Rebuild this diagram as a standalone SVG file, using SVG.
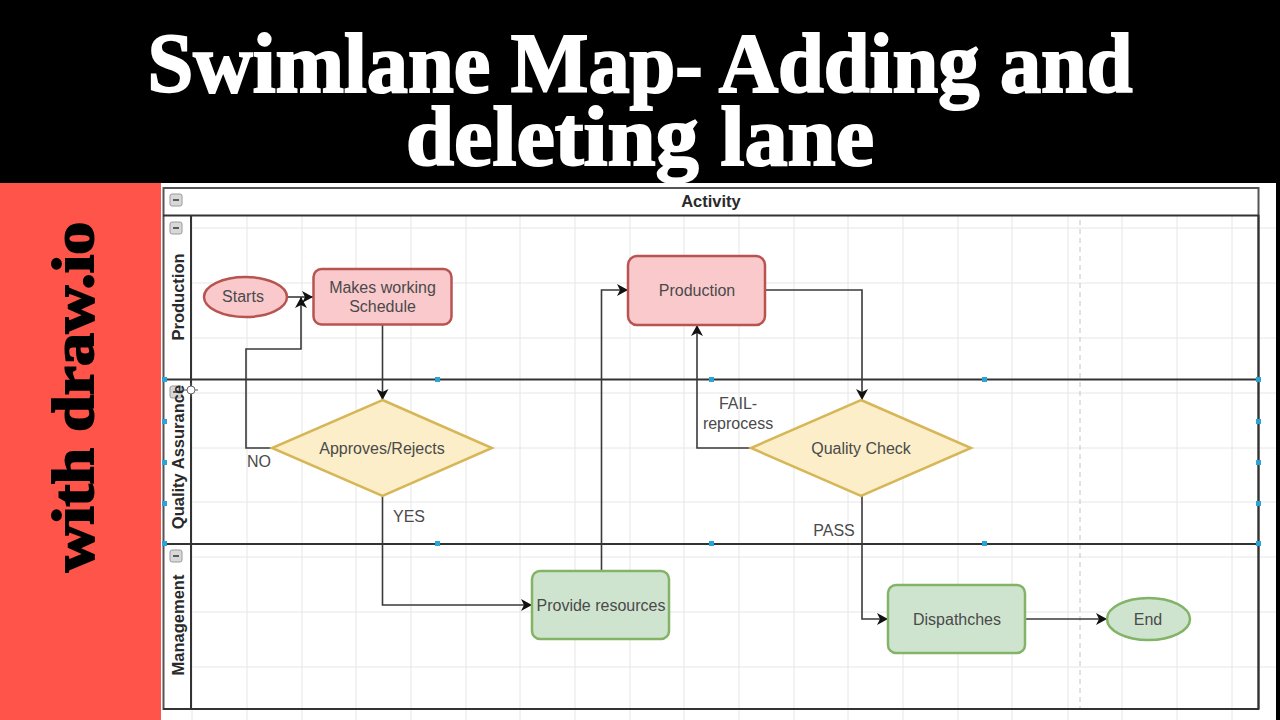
<svg xmlns="http://www.w3.org/2000/svg" width="1280" height="720" viewBox="0 0 1280 720">
<style>
.t{font-family:"Liberation Sans",Arial,sans-serif;font-size:16px;fill:#4a4a4a;text-anchor:middle}
.h{font-family:"Liberation Sans",Arial,sans-serif;font-size:16.500px;font-weight:bold;fill:#2a2a2a;text-anchor:middle}
.title{font-family:"Liberation Serif","Times New Roman",serif;font-weight:bold;fill:#fff;text-anchor:middle;stroke:#fff;stroke-width:2px}
.g{stroke:#e6e6e6;stroke-width:1;fill:none}
.l{stroke:#333;stroke-width:2;fill:none}
.c{stroke:#3a3a3a;stroke-width:1.6;fill:none;marker-end:url(#a)}
.r{fill:#f9c9cc;stroke:#b85450;stroke-width:2.5}
.y{fill:#fbeec8;stroke:#d6b656;stroke-width:2.5}
.v{fill:#cfe4cf;stroke:#82b366;stroke-width:2.5}
.b{fill:#d8d8d8;stroke:#9a9a9a;stroke-width:1}
.m{fill:#29a3d8}
</style>
<defs>
<marker id="a" markerUnits="userSpaceOnUse" markerWidth="12" markerHeight="12" refX="11" refY="6" orient="auto"><path d="M0 0L11 6L0 12L3 6Z" fill="#111"/></marker>
</defs>
<rect width="1280" height="720" fill="#000"/>
<rect x="0" y="183" width="161" height="537" fill="#ff5449"/>
<rect x="161" y="183" width="1115" height="537" fill="#fff"/>
<g id="grid">
<path class="g" d="M192 216V720M247 216V720M302 216V720M356 216V720M411 216V720M466 216V720M520 216V720M575 216V720M630 216V720M684 216V720M739 216V720M794 216V720M848 216V720M903 216V720M958 216V720M1012 216V720M1068 216V720M1122 216V720M1177 216V720M1232 216V720"/>
<path class="g" d="M192 228H1276M192 283H1276M192 338H1276M192 393H1276M192 448H1276M192 502H1276M192 557H1276M192 612H1276M192 667H1276"/>
<path d="M1080 220V710" stroke="#c4c4c4" stroke-width="1" stroke-dasharray="5 4" fill="none"/>
</g>
<g id="heading">
<text class="title" x="640" y="92" font-size="84" textLength="985" lengthAdjust="spacingAndGlyphs">Swimlane Map- Adding and</text>
<text class="title" x="640" y="165" font-size="84" textLength="468" lengthAdjust="spacingAndGlyphs">deleting lane</text>
<text class="title" transform="translate(93 397) rotate(-90)" font-size="60" textLength="350" lengthAdjust="spacingAndGlyphs" style="fill:#000;stroke:#000">with draw.io</text>
</g>
<g id="pool">
<rect x="163.500" y="188" width="1095" height="521" fill="none" stroke="#555" stroke-width="2"/>
<path class="l" d="M163 215.500H1259M191 215.500V709M163 379.500H1259M163 544H1259M163 709H1259M1258.500 215V709"/>
<rect class="b" x="170" y="194" width="12" height="12" rx="2"/><path d="M173 200H179" stroke="#333" stroke-width="1.500"/>
<text class="h" x="711" y="207">Activity</text>
</g>
<g id="lane-production">
<rect class="b" x="170" y="222" width="12" height="12" rx="2"/><path d="M173 228H179" stroke="#333" stroke-width="1.500"/>
<text class="h" transform="translate(184 297) rotate(-90)">Production</text>
</g>
<g id="lane-qa">
<rect class="b" x="170" y="386" width="12" height="12" rx="2"/><path d="M173 392H179" stroke="#333" stroke-width="1.500"/>
<text class="h" transform="translate(184 457) rotate(-90)">Quality Assurance</text>
<path d="M184 390H198M191 383V397" stroke="#555" stroke-width="1"/>
<circle cx="191" cy="390" r="4" fill="#fff" stroke="#666"/>
</g>
<g id="lane-management">
<rect class="b" x="170" y="550" width="12" height="12" rx="2"/><path d="M173 556H179" stroke="#333" stroke-width="1.500"/>
<text class="h" transform="translate(184 625) rotate(-90)">Management</text>
</g>
<g id="handles">
<rect class="m" x="162" y="377" width="5" height="5"/><rect class="m" x="435" y="377" width="5" height="5"/><rect class="m" x="709" y="377" width="5" height="5"/><rect class="m" x="982" y="377" width="5" height="5"/><rect class="m" x="1256" y="377" width="5" height="5"/>
<rect class="m" x="162" y="541" width="5" height="5"/><rect class="m" x="435" y="541" width="5" height="5"/><rect class="m" x="709" y="541" width="5" height="5"/><rect class="m" x="982" y="541" width="5" height="5"/><rect class="m" x="1256" y="541" width="5" height="5"/>
<rect class="m" x="162" y="419" width="5" height="5"/><rect class="m" x="162" y="460" width="5" height="5"/><rect class="m" x="162" y="501" width="5" height="5"/>
<rect class="m" x="1256" y="419" width="5" height="5"/><rect class="m" x="1256" y="460" width="5" height="5"/><rect class="m" x="1256" y="501" width="5" height="5"/>
</g>
<g id="connectors">
<path class="c" d="M287 297H313"/>
<path class="c" d="M272 448H246V349H301V297"/>
<path class="c" d="M382.500 325V400"/>
<path class="c" d="M382.500 496V605H532"/>
<path class="c" d="M601.500 571V290H628"/>
<path class="c" d="M765 290H862V400"/>
<path class="c" d="M751 448H697V325"/>
<path class="c" d="M862 496V619H888"/>
<path class="c" d="M1026 619H1107"/>
</g>
<g id="edge-labels">
<text class="t" x="259" y="467">NO</text>
<text class="t" x="409" y="522">YES</text>
<text class="t" x="738" y="409">FAIL-</text>
<text class="t" x="738" y="429">reprocess</text>
<text class="t" x="834" y="536">PASS</text>
</g>
<g id="starts"><ellipse class="r" cx="245.500" cy="297" rx="41.500" ry="20"/><text class="t" x="243" y="302">Starts</text></g>
<g id="schedule"><rect class="r" x="313.500" y="269" width="138" height="55.500" rx="8"/><text class="t" x="382.500" y="293">Makes working</text><text class="t" x="382.500" y="312">Schedule</text></g>
<g id="approves"><polygon class="y" points="382.500,400 492,448 382.500,496 272,448"/><text class="t" x="382" y="454">Approves/Rejects</text></g>
<g id="production"><rect class="r" x="628" y="256" width="137" height="69" rx="9"/><text class="t" x="697" y="296">Production</text></g>
<g id="quality"><polygon class="y" points="861,400 971,448 861,496 751,448"/><text class="t" x="861" y="454">Quality Check</text></g>
<g id="resources"><rect class="v" x="532" y="571" width="137" height="68" rx="8"/><text class="t" x="601" y="611">Provide resources</text></g>
<g id="dispatches"><rect class="v" x="888" y="585" width="137" height="68" rx="8"/><text class="t" x="957" y="625">Dispathches</text></g>
<g id="end"><ellipse class="v" cx="1148.500" cy="619" rx="41.500" ry="21"/><text class="t" x="1148" y="625">End</text></g>
</svg>
